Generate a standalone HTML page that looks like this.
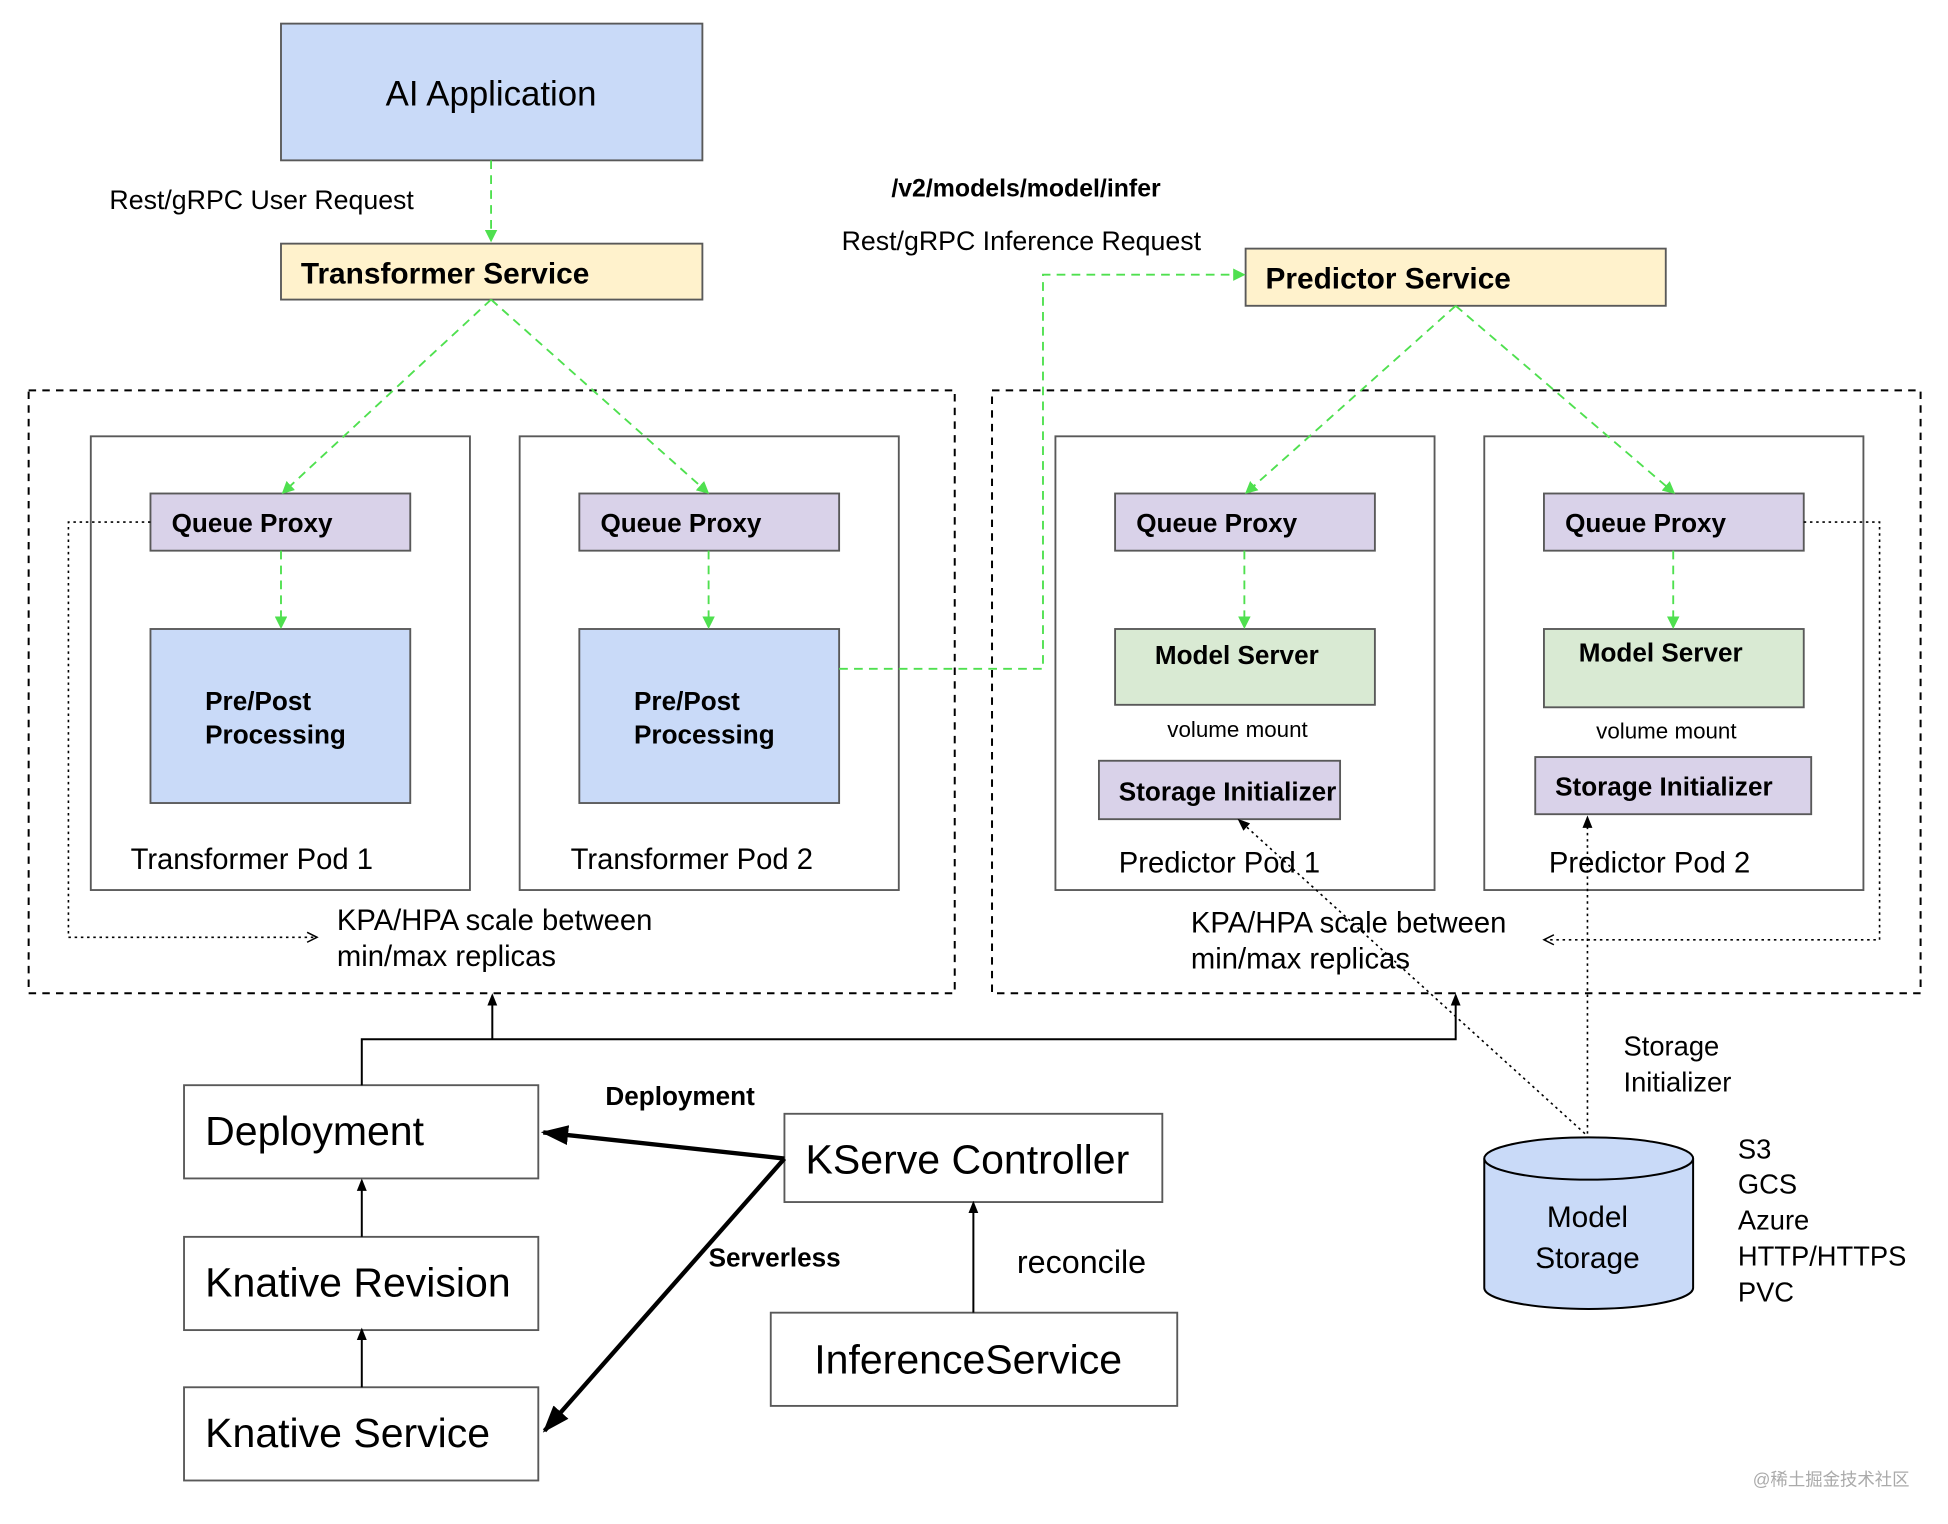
<!DOCTYPE html>
<html><head><meta charset="utf-8"><style>
html,body{margin:0;padding:0;background:#fff;}
svg{display:block;}
text{font-family:"Liberation Sans","Noto Sans CJK SC",sans-serif;fill:#000;}
.b{font-weight:bold;}
</style></head><body>
<svg width="1948" height="1524" viewBox="0 0 1567 1226" xmlns="http://www.w3.org/2000/svg">
<defs>
<marker id="g" markerWidth="10" markerHeight="10" refX="8" refY="5" orient="auto" markerUnits="userSpaceOnUse"><path d="M0,0 L10,5 L0,10 z" fill="#4fe04f"/></marker>
<marker id="k" markerWidth="10" markerHeight="10" refX="8" refY="5" orient="auto" markerUnits="userSpaceOnUse"><path d="M0,1 L10,5 L0,9 z" fill="#000"/></marker>
<marker id="kb" markerWidth="24" markerHeight="20" refX="20" refY="10" orient="auto" markerUnits="userSpaceOnUse"><path d="M0,2 L22,10 L0,18 z" fill="#000"/></marker>
<marker id="o" markerWidth="10" markerHeight="10" refX="8" refY="5" orient="auto" markerUnits="userSpaceOnUse"><path d="M1,1 L9,5 L1,9" fill="none" stroke="#000" stroke-width="1.2"/></marker>
</defs>
<g stroke="#595959" stroke-width="1.5">
<rect x="226" y="19" width="339" height="110" fill="#c9daf8"/>
<rect x="226" y="196" width="339" height="45" fill="#fff2cc"/>
<rect x="1002" y="200" width="338" height="46" fill="#fff2cc"/>
</g>
<g fill="none" stroke="#000" stroke-width="1.6" stroke-dasharray="6,5">
<rect x="23" y="314" width="745" height="485"/>
<rect x="798" y="314" width="747" height="485"/>
</g>
<g fill="#fff" stroke="#595959" stroke-width="1.5">
<rect x="73" y="351" width="305" height="365"/>
<rect x="418" y="351" width="305" height="365"/>
<rect x="849" y="351" width="305" height="365"/>
<rect x="1194" y="351" width="305" height="365"/>
</g>
<g stroke="#595959" stroke-width="1.5">
<rect x="121" y="397" width="209" height="46" fill="#d9d2e9"/>
<rect x="466" y="397" width="209" height="46" fill="#d9d2e9"/>
<rect x="897" y="397" width="209" height="46" fill="#d9d2e9"/>
<rect x="1242" y="397" width="209" height="46" fill="#d9d2e9"/>
<rect x="121" y="506" width="209" height="140" fill="#c9daf8"/>
<rect x="466" y="506" width="209" height="140" fill="#c9daf8"/>
<rect x="897" y="506" width="209" height="61" fill="#d9ead3"/>
<rect x="1242" y="506" width="209" height="63" fill="#d9ead3"/>
<rect x="884" y="612" width="194" height="47" fill="#d9d2e9"/>
<rect x="1235" y="609" width="222" height="46" fill="#d9d2e9"/>
<rect x="148" y="873" width="285" height="75" fill="#fff"/>
<rect x="148" y="995" width="285" height="75" fill="#fff"/>
<rect x="148" y="1116" width="285" height="75" fill="#fff"/>
<rect x="631" y="896" width="304" height="71" fill="#fff"/>
<rect x="620" y="1056" width="327" height="75" fill="#fff"/>
</g>
<g fill="none" stroke="#4fe04f" stroke-width="1.5" stroke-dasharray="7,5">
<line x1="395" y1="129" x2="395" y2="193" marker-end="url(#g)"/>
<line x1="395" y1="241" x2="228" y2="396" marker-end="url(#g)"/>
<line x1="395" y1="241" x2="569" y2="396" marker-end="url(#g)"/>
<line x1="1171" y1="246" x2="1003" y2="396" marker-end="url(#g)"/>
<line x1="1171" y1="246" x2="1346" y2="396" marker-end="url(#g)"/>
<line x1="226" y1="443" x2="226" y2="504" marker-end="url(#g)"/>
<line x1="570" y1="443" x2="570" y2="504" marker-end="url(#g)"/>
<line x1="1001" y1="443" x2="1001" y2="504" marker-end="url(#g)"/>
<line x1="1346" y1="443" x2="1346" y2="504" marker-end="url(#g)"/>
<polyline points="675,538 839,538 839,221 1000,221" marker-end="url(#g)"/>
</g>
<g fill="none" stroke="#000" stroke-width="1.3" stroke-dasharray="2,3">
<polyline points="121,420 55,420 55,754 254,754" marker-end="url(#o)"/>
<polyline points="1451,420 1512,420 1512,756 1243,756" marker-end="url(#o)"/>
<line x1="1275" y1="912" x2="997" y2="660" marker-end="url(#k)"/>
<line x1="1277" y1="912" x2="1277" y2="658" marker-end="url(#k)"/>
</g>
<g fill="none" stroke="#000" stroke-width="1.6">
<polyline points="291,873 291,836 1171,836 1171,801" marker-end="url(#k)"/>
<line x1="396" y1="836" x2="396" y2="801" marker-end="url(#k)"/>
<line x1="291" y1="995" x2="291" y2="950" marker-end="url(#k)"/>
<line x1="291" y1="1116" x2="291" y2="1070" marker-end="url(#k)"/>
<line x1="783" y1="1056" x2="783" y2="968" marker-end="url(#k)"/>
</g>
<g fill="none" stroke="#000" stroke-width="3.5">
<line x1="631" y1="932" x2="437" y2="911" marker-end="url(#kb)"/>
<line x1="631" y1="932" x2="438" y2="1151" marker-end="url(#kb)"/>
</g>
<path d="M1194,932 L1194,1036 A84,17 0 0 0 1362,1036 L1362,932" fill="#c9daf8" stroke="#000" stroke-width="1.6"/>
<ellipse cx="1278" cy="932" rx="84" ry="17" fill="#c9daf8" stroke="#000" stroke-width="1.6"/>
<text x="395" y="85" font-size="28" text-anchor="middle">AI Application</text>
<text x="88" y="168" font-size="21.5">Rest/gRPC User Request</text>
<text x="242" y="228" font-size="24" class="b">Transformer Service</text>
<text x="717" y="158" font-size="20" class="b">/v2/models/model/infer</text>
<text x="677" y="201" font-size="21.5">Rest/gRPC Inference Request</text>
<text x="1018" y="232" font-size="24" class="b">Predictor Service</text>
<g font-size="21">
<text x="138" y="428" class="b">Queue Proxy</text>
<text x="483" y="428" class="b">Queue Proxy</text>
<text x="914" y="428" class="b">Queue Proxy</text>
<text x="1259" y="428" class="b">Queue Proxy</text>
<text x="165" y="571" class="b">Pre/Post</text>
<text x="165" y="598" class="b">Processing</text>
<text x="510" y="571" class="b">Pre/Post</text>
<text x="510" y="598" class="b">Processing</text>
<text x="929" y="534" class="b">Model Server</text>
<text x="1270" y="532" class="b">Model Server</text>
<text x="900" y="644" class="b">Storage Initializer</text>
<text x="1251" y="640" class="b">Storage Initializer</text>
<text x="487" y="889" class="b">Deployment</text>
<text x="570" y="1019" class="b">Serverless</text>
</g>
<text x="939" y="593" font-size="18">volume mount</text>
<text x="1284" y="594" font-size="18">volume mount</text>
<g font-size="23.5">
<text x="105" y="699">Transformer Pod 1</text>
<text x="459" y="699">Transformer Pod 2</text>
<text x="900" y="702">Predictor Pod 1</text>
<text x="1246" y="702">Predictor Pod 2</text>
<text x="271" y="748">KPA/HPA scale between</text>
<text x="271" y="777">min/max replicas</text>
<text x="958" y="750">KPA/HPA scale between</text>
<text x="958" y="779">min/max replicas</text>
</g>
<g font-size="22">
<text x="1306" y="849">Storage</text>
<text x="1306" y="878">Initializer</text>
<text x="1398" y="932">S3</text>
<text x="1398" y="960">GCS</text>
<text x="1398" y="989">Azure</text>
<text x="1398" y="1018">HTTP/HTTPS</text>
<text x="1398" y="1047">PVC</text>
<text x="1277" y="987" text-anchor="middle" font-size="24">Model</text>
<text x="1277" y="1020" text-anchor="middle" font-size="24">Storage</text>
</g>
<text x="818" y="1024" font-size="26">reconcile</text>
<g font-size="33">
<text x="165" y="921">Deployment</text>
<text x="165" y="1043">Knative Revision</text>
<text x="165" y="1164">Knative Service</text>
<text x="648" y="944">KServe Controller</text>
<text x="655" y="1105">InferenceService</text>
</g>
<text x="1410" y="1195" font-size="14" style="fill:#aaa">@稀土掘金技术社区</text>
</svg>
</body></html>
